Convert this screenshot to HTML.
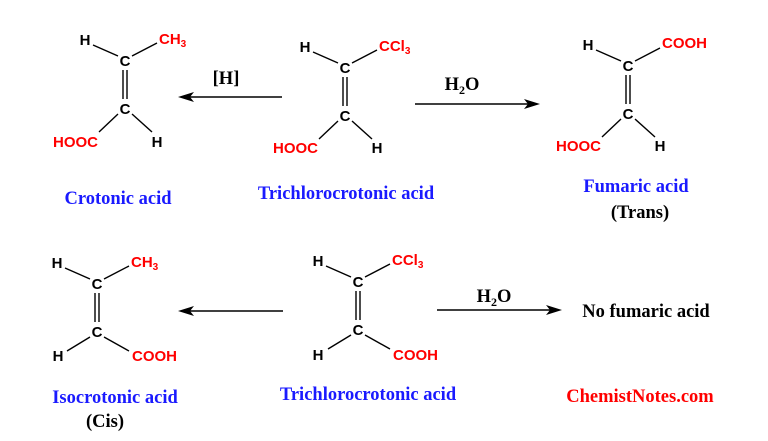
<!DOCTYPE html>
<html><head><meta charset="utf-8"><style>
html,body{margin:0;padding:0;background:#fff;}
svg{display:block;}
.a{font-family:"Liberation Sans",sans-serif;font-weight:bold;font-size:15px;}
.s{font-family:"Liberation Serif",serif;font-weight:bold;font-size:18.5px;}
.r{fill:#f00;} .b{fill:#1a1aff;} .k{fill:#000;}
line{stroke:#000;stroke-width:1.4;}
</style></head><body>
<svg width="768" height="441" viewBox="0 0 768 441" xmlns="http://www.w3.org/2000/svg">
<defs>
<g id="core">
  <text class="a k" x="0" y="6" text-anchor="middle">C</text>
  <text class="a k" x="0" y="54" text-anchor="middle">C</text>
  <line x1="-32" y1="-15" x2="-7" y2="-4"/>
  <line x1="7" y1="-4" x2="32" y2="-17"/>
  <line x1="-2" y1="10" x2="-2" y2="39"/>
  <line x1="2" y1="10" x2="2" y2="39"/>
  <text class="a k" x="-40" y="-15" text-anchor="middle">H</text>
</g>
<g id="low">
  <line x1="-7" y1="54" x2="-26" y2="72"/>
  <line x1="7" y1="54" x2="27" y2="72"/>
</g>
</defs>
<g transform="translate(125,60)">
  <use href="#core"/><use href="#low"/>
  <text class="a r" x="34" y="-16">CH<tspan font-size="10" dy="3">3</tspan></text>
  <text class="a r" x="-27" y="87" text-anchor="end">HOOC</text>
  <text class="a k" x="32" y="87" text-anchor="middle">H</text>
</g>
<g transform="translate(345,67)">
  <use href="#core"/><use href="#low"/>
  <text class="a r" x="34" y="-16">CCl<tspan font-size="10" dy="3">3</tspan></text>
  <text class="a r" x="-27" y="86" text-anchor="end">HOOC</text>
  <text class="a k" x="32" y="86" text-anchor="middle">H</text>
</g>
<g transform="translate(628,65)">
  <use href="#core"/><use href="#low"/>
  <text class="a r" x="34" y="-17">COOH</text>
  <text class="a r" x="-27" y="86" text-anchor="end">HOOC</text>
  <text class="a k" x="32" y="86" text-anchor="middle">H</text>
</g>
<g transform="translate(97,283)">
  <use href="#core"/>
  <line x1="-7" y1="54" x2="-30" y2="68"/>
  <line x1="7" y1="54" x2="32" y2="68"/>
  <text class="a r" x="34" y="-16">CH<tspan font-size="10" dy="3">3</tspan></text>
  <text class="a k" x="-39" y="78" text-anchor="middle">H</text>
  <text class="a r" x="35" y="78">COOH</text>
</g>
<g transform="translate(358,281)">
  <use href="#core"/>
  <line x1="-7" y1="54" x2="-30" y2="68"/>
  <line x1="7" y1="54" x2="32" y2="68"/>
  <text class="a r" x="34" y="-16">CCl<tspan font-size="10" dy="3">3</tspan></text>
  <text class="a k" x="-40" y="79" text-anchor="middle">H</text>
  <text class="a r" x="35" y="79">COOH</text>
</g>
<line x1="282" y1="97" x2="190" y2="97"/>
<polygon points="178,97 194,92 190,97 194,102" fill="#000"/>
<text class="s k" x="226" y="84" text-anchor="middle">[H]</text>
<line x1="415" y1="104" x2="528" y2="104"/>
<polygon points="540,104 524,99 528,104 524,109" fill="#000"/>
<text class="s k" x="462" y="90" text-anchor="middle">H<tspan font-size="12" dy="4">2</tspan><tspan dy="-4">O</tspan></text>
<line x1="283" y1="311" x2="190" y2="311"/>
<polygon points="178,311 194,306 190,311 194,316" fill="#000"/>
<line x1="437" y1="310" x2="550" y2="310"/>
<polygon points="562,310 546,305 550,310 546,315" fill="#000"/>
<text class="s k" x="494" y="302" text-anchor="middle">H<tspan font-size="12" dy="4">2</tspan><tspan dy="-4">O</tspan></text>
<text class="s b" x="118" y="204" text-anchor="middle">Crotonic acid</text>
<text class="s b" x="346" y="199" text-anchor="middle">Trichlorocrotonic acid</text>
<text class="s b" x="636" y="192" text-anchor="middle">Fumaric acid</text>
<text class="s k" x="640" y="218" text-anchor="middle">(Trans)</text>
<text class="s b" x="115" y="403" text-anchor="middle">Isocrotonic acid</text>
<text class="s k" x="105" y="427" text-anchor="middle">(Cis)</text>
<text class="s b" x="368" y="400" text-anchor="middle">Trichlorocrotonic acid</text>
<text class="s k" x="646" y="317" text-anchor="middle">No fumaric acid</text>
<text class="s r" x="640" y="402" text-anchor="middle">ChemistNotes.com</text>
</svg>
</body></html>
